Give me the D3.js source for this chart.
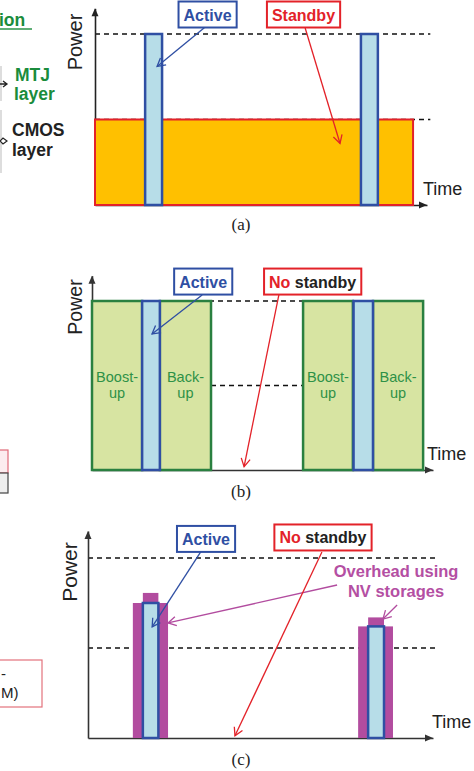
<!DOCTYPE html>
<head>
  <meta charset="utf-8">
  <script src="https://d3js.org/d3.v7.min.js"></script>
  <style>
    body { margin: 0; background: #fff; }
    svg { width: 474px; height: 771px; display: block; font-family: "Liberation Sans", Arial, sans-serif; }
  </style>
</head>
<body>
  <svg></svg>
  <script>
    const timeMax = 10;
    const powerTop = 1.15;

    // (a) conventional: leakage in standby + short active bursts  [t0, t1, power]
    const aDash = [[0, 10.1, 1], [0, 10.1, 0.5]];
    const aStandby = [[0, 9.58, 0.5]];
    const aActive = [[1.51, 2.02, 1], [8.01, 8.52, 1]];

    // (b) power gating: boost-up / active / back-up
    const bDash = [[0, 9.7, 1], [3.49, 6.19, 0.5]];
    const bBoost = [[0, 1.47, 1], [6.19, 7.65, 1]];
    const bActive = [[1.47, 1.99, 1], [7.67, 8.24, 1]];
    const bBackup = [[1.99, 3.49, 1], [8.24, 9.71, 1]];
    const bBoostText = ['Boost-', 'up'];
    const bBackText = ['Back-', 'up'];

    // (c) nonvolatile: active with overhead
    const cDash = [[0, 10.06, 1], [0, 10.06, 0.5]];
    const cOverhead = [[1.30, 2.32, 0.75], [7.83, 8.84, 0.62]];
    const cCap = [[1.59, 2.04, 0.806], [8.12, 8.58, 0.67]];
    const cActive = [[1.59, 2.04, 0.75], [8.12, 8.58, 0.62]];

    // annotation anchors, in data units of each panel
    const aNotes = [
      { parts: [['Active', '#2f4fa3']], at: [3.39, 1.114], from: [3.31, 1.04], to: [1.87, 0.81], color: '#2f4fa3' },
      { parts: [['Standby', '#e32229']], at: [6.28, 1.114], from: [6.33, 1.035], to: [7.38, 0.36], color: '#e32229' }
    ];
    const bNotes = [
      { parts: [['Active', '#2f4fa3']], at: [3.26, 1.115], from: [3.23, 1.036], to: [1.76, 0.805], color: '#2f4fa3' },
      { parts: [['No ', '#e32229'], ['standby', '#222']], at: [6.47, 1.115], from: [5.48, 1.036], to: [4.46, 0.02], color: '#e32229' }
    ];
    const cNotes = [
      { parts: [['Active', '#2f4fa3']], at: [3.42, 1.106], from: [3.30, 1.044], to: [1.86, 0.617], color: '#2f4fa3' },
      { parts: [['No ', '#e32229'], ['standby', '#222']], at: [6.81, 1.114], from: [6.78, 1.033], to: [4.26, 0.012], color: '#e32229' }
    ];
    const cOverheadText = ['Overhead using', 'NV storages'];

    const svg = d3.select('svg');

    // arrow markers
    const defs = svg.append('defs');
    [['blue', '#2f4fa3'], ['red', '#e32229'], ['purple', '#b24c9f']].forEach(([id, col]) => {
      defs.append('marker')
        .attr('id', 'arr-' + id)
        .attr('viewBox', '-1 -6 11 12')
        .attr('refX', 8).attr('refY', 0)
        .attr('markerWidth', 11).attr('markerHeight', 12)
        .attr('markerUnits', 'userSpaceOnUse')
        .attr('orient', 'auto')
        .append('path')
        .attr('d', 'M0,-4.5L8,0L0,4.5')
        .attr('fill', 'none')
        .attr('stroke', col)
        .attr('stroke-width', 1.3);
    });
    const markerFor = c => c === '#2f4fa3' ? 'url(#arr-blue)' : c === '#e32229' ? 'url(#arr-red)' : 'url(#arr-purple)';

    function makeScales(xr, yr) {
      return {
        x: d3.scaleLinear().domain([0, timeMax]).range(xr),
        y: d3.scaleLinear().domain([0, 1]).range(yr)
      };
    }

    function drawDash(g, s, data) {
      g.selectAll('line.dash').data(data).enter().append('line')
        .attr('class', 'dash')
        .attr('x1', d => s.x(d[0])).attr('x2', d => s.x(d[1]))
        .attr('y1', d => s.y(d[2])).attr('y2', d => s.y(d[2]))
        .attr('stroke', '#111').attr('stroke-width', 1.4)
        .attr('stroke-dasharray', '5,4');
    }

    function drawAxes(g, s, color) {
      const ya = d3.scaleLinear().domain([0, powerTop]).range([s.y(0), s.y(powerTop)]);
      g.append('g').attr('transform', `translate(${s.x(0)},0)`)
        .call(d3.axisLeft(ya).tickValues([]).tickSizeOuter(0))
        .attr('color', color)
        .select('.domain').attr('stroke-width', 1.6);
      g.append('g').attr('transform', `translate(0,${s.y(0)})`)
        .call(d3.axisBottom(s.x).tickValues([]).tickSizeOuter(0))
        .attr('color', color)
        .select('.domain').attr('stroke-width', 1.6);
      const x0 = s.x(0), yt = s.y(powerTop), xe = s.x(timeMax), y0 = s.y(0);
      g.append('path').attr('d', `M${x0 - 3.5},${yt + 8}L${x0},${yt}L${x0 + 3.5},${yt + 8}Z`).attr('fill', color);
      g.append('path').attr('d', `M${xe - 8},${y0 - 3.5}L${xe},${y0}L${xe - 8},${y0 + 3.5}Z`).attr('fill', color);
    }

    function drawBars(g, s, data, fill, stroke, sw) {
      g.selectAll(null).data(data).enter().append('rect')
        .attr('x', d => s.x(d[0]))
        .attr('width', d => s.x(d[1]) - s.x(d[0]))
        .attr('y', d => s.y(d[2]))
        .attr('height', d => s.y(0) - s.y(d[2]))
        .attr('fill', fill)
        .attr('stroke', stroke || 'none')
        .attr('stroke-width', sw || 0);
    }

    function drawNotes(g, s, notes) {
      notes.forEach(n => {
        const cx = s.x(n.at[0]), cy = s.y(n.at[1]);
        g.append('line')
          .attr('x1', s.x(n.from[0])).attr('y1', s.y(n.from[1]))
          .attr('x2', s.x(n.to[0])).attr('y2', s.y(n.to[1]))
          .attr('stroke', n.color).attr('stroke-width', 1.3)
          .attr('marker-end', markerFor(n.color));
        const box = g.append('rect');
        const t = g.append('text')
          .attr('x', cx).attr('y', cy + 6)
          .attr('text-anchor', 'middle')
          .attr('font-weight', 'bold').attr('font-size', 16);
        n.parts.forEach(p => t.append('tspan').text(p[0]).attr('fill', p[1]).attr('xml:space', 'preserve'));
        const bb = t.node().getBBox();
        box.attr('x', bb.x - 5).attr('y', cy - 13)
          .attr('width', bb.width + 10).attr('height', 26)
          .attr('fill', '#fff').attr('stroke', n.color).attr('stroke-width', 2);
      });
    }

    function axisTitles(g, s, powerX, powerY, powerSize, timeX, timeY, cap, capY) {
      g.append('text').attr('transform', `translate(${powerX},${powerY})rotate(-90)`)
        .attr('text-anchor', 'middle').attr('font-size', powerSize).attr('fill', '#222').text('Power');
      g.append('text').attr('x', timeX).attr('y', timeY)
        .attr('font-size', 18).attr('fill', '#222').text('Time');
      g.append('text').attr('x', 241).attr('y', capY).attr('text-anchor', 'middle')
        .attr('font-family', '"Liberation Serif", "Times New Roman", serif')
        .attr('font-size', 17).attr('fill', '#222').text(cap);
    }

    /*****************************************************
    ** cropped pieces of the neighbouring figure (left edge)
    ******************************************************/
    const left = svg.append('g');
    left.append('text').attr('x', -1).attr('y', 26).attr('font-weight', 'bold').attr('font-size', 17.5)
      .attr('fill', '#1a8c3c').text('ion');
    left.append('line').attr('x1', 0).attr('x2', 32).attr('y1', 29).attr('y2', 29)
      .attr('stroke', '#1a8c3c').attr('stroke-width', 1.4);
    left.append('rect').attr('x', -2).attr('y', 66).attr('width', 4).attr('height', 35).attr('fill', '#ddd');
    left.append('rect').attr('x', -2).attr('y', 110).attr('width', 4).attr('height', 63).attr('fill', '#ddd');
    left.append('path').attr('d', 'M0,84L6,84M3,81L7,84L3,87').attr('stroke', '#222').attr('fill', 'none').attr('stroke-width', 1.3);
    left.append('path').attr('d', 'M0,141L3,138L7,141L3,144Z').attr('stroke', '#222').attr('fill', '#fff').attr('stroke-width', 1.2);
    left.append('text').attr('x', 15).attr('y', 81).attr('font-weight', 'bold').attr('font-size', 17.5).attr('fill', '#1a8c3c').text('MTJ');
    left.append('text').attr('x', 14).attr('y', 100).attr('font-weight', 'bold').attr('font-size', 17.5).attr('fill', '#1a8c3c').text('layer');
    left.append('text').attr('x', 12).attr('y', 136).attr('font-weight', 'bold').attr('font-size', 17.5).attr('fill', '#222').text('CMOS');
    left.append('text').attr('x', 12).attr('y', 156).attr('font-weight', 'bold').attr('font-size', 17.5).attr('fill', '#222').text('layer');
    left.append('rect').attr('x', -10).attr('y', 450).attr('width', 18).attr('height', 23)
      .attr('fill', '#fcecef').attr('stroke', '#e06a78').attr('stroke-width', 1.2);
    left.append('rect').attr('x', -10).attr('y', 473).attr('width', 18).attr('height', 20)
      .attr('fill', '#eeeeee').attr('stroke', '#444').attr('stroke-width', 1.2);
    left.append('rect').attr('x', -10).attr('y', 660).attr('width', 52).attr('height', 47)
      .attr('fill', '#fff').attr('stroke', '#e3727c').attr('stroke-width', 1.2);
    left.append('text').attr('x', 1).attr('y', 679).attr('font-size', 15).attr('fill', '#222').text('-');
    left.append('text').attr('x', 1).attr('y', 698).attr('font-size', 15).attr('fill', '#222').text('M)');

    /*****************************************************
    ** (a)
    ******************************************************/
    const ga = svg.append('g');
    const sa = makeScales([95, 427], [205, 34]);
    drawDash(ga, sa, aDash);
    drawAxes(ga, sa, '#222');
    drawBars(ga, sa, aStandby, '#ffc000', '#e32229', 2);
    drawBars(ga, sa, aActive, '#b7dde8', '#2f4fa3', 2.5);
    drawNotes(ga, sa, aNotes);
    axisTitles(ga, sa, 82, 42, 20, 423, 195, '(a)', 230);

    /*****************************************************
    ** (b)
    ******************************************************/
    const gb = svg.append('g');
    const sb = makeScales([92, 433], [470, 301]);
    drawDash(gb, sb, bDash);
    drawAxes(gb, sb, '#333');
    drawBars(gb, sb, bBoost, '#d7e4a2', '#2a8040', 2.5);
    drawBars(gb, sb, bBackup, '#d7e4a2', '#2a8040', 2.5);
    drawBars(gb, sb, bActive, '#b7dde8', '#2f4fa3', 2.5);
    [[bBoost, bBoostText], [bBackup, bBackText]].forEach(([bars, lines]) => {
      bars.forEach(d => {
        const t = gb.append('text').attr('text-anchor', 'middle').attr('font-size', 14.5).attr('fill', '#2e9147');
        lines.forEach((l, i) => t.append('tspan')
          .attr('x', sb.x((d[0] + d[1]) / 2))
          .attr('y', sb.y(0.52) + i * 16).text(l));
      });
    });
    drawNotes(gb, sb, bNotes);
    axisTitles(gb, sb, 82, 307, 19.5, 427, 460, '(b)', 497);

    /*****************************************************
    ** (c)
    ******************************************************/
    const gc = svg.append('g');
    const sc = makeScales([88, 433], [738, 558]);
    drawDash(gc, sc, cDash);
    drawAxes(gc, sc, '#333');
    drawBars(gc, sc, cOverhead, '#b24c9f');
    drawBars(gc, sc, cCap, '#b24c9f');
    drawBars(gc, sc, cActive, '#b7dde8', '#2f4fa3', 2.5);
    // overhead note
    const ot = gc.append('text').attr('text-anchor', 'middle').attr('font-weight', 'bold')
      .attr('font-size', 16.5).attr('fill', '#b44fa3');
    cOverheadText.forEach((l, i) => ot.append('tspan')
      .attr('x', sc.x(8.93)).attr('y', sc.y(0.894) + i * 20).text(l));
    gc.append('line')
      .attr('x1', sc.x(7.22)).attr('y1', sc.y(0.85)).attr('x2', sc.x(2.32)).attr('y2', sc.y(0.639))
      .attr('stroke', '#b24c9f').attr('stroke-width', 1.3).attr('marker-end', 'url(#arr-purple)');
    gc.append('line')
      .attr('x1', sc.x(8.96)).attr('y1', sc.y(0.739)).attr('x2', sc.x(8.55)).attr('y2', sc.y(0.661))
      .attr('stroke', '#b24c9f').attr('stroke-width', 1.3).attr('marker-end', 'url(#arr-purple)');
    drawNotes(gc, sc, cNotes);
    axisTitles(gc, sc, 77, 572, 21, 432, 728, '(c)', 765);
  </script>
</body>
